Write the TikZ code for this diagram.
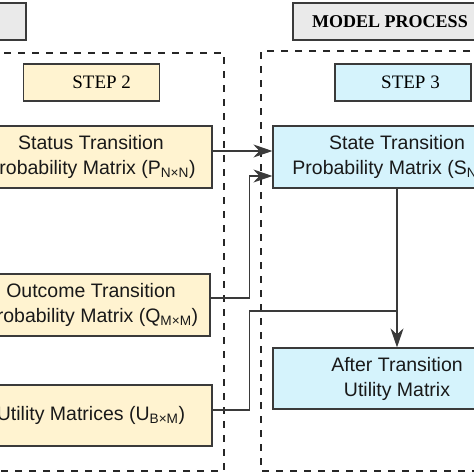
\documentclass[tikz,border=0pt]{standalone}
\usepackage{fontspec}
\setmainfont{Liberation Sans}
\newfontfamily\stepfont{Liberation Serif}
\usetikzlibrary{arrows.meta}
\definecolor{boxline}{HTML}{3A3A3A}
\definecolor{inputfill}{HTML}{FFF3D0}
\definecolor{modelfill}{HTML}{D5F3FC}
\definecolor{headfill}{HTML}{EAEAEA}
\tikzset{
    matbox/.style={draw=boxline,line width=1.2pt,inner sep=0pt,align=center,
        minimum height=62pt,text=black!90},
    stepbox/.style={draw=boxline,line width=1.2pt,inner sep=0pt,
        minimum width=136pt,minimum height=37pt,
        font=\stepfont\fontsize{19}{23}\selectfont},
    headbox/.style={draw=boxline,line width=1.2pt,fill=headfill,inner sep=0pt,
        minimum height=37pt,font=\stepfont\bfseries\fontsize{18}{22}\selectfont},
    dashbox/.style={line width=1.5pt,dash pattern=on 7pt off 7pt,black!85},
    conn/.style={line width=1.2pt,boxline},
}
\begin{document}
\begin{tikzpicture}[x=1pt,y=-1pt,>={Stealth[length=19pt,width=13pt,inset=6pt]},
    every node/.style={font=\fontsize{19.5}{25}\selectfont}]
    \useasboundingbox (0,0) rectangle (474,474);
    \clip (0,0) rectangle (474,474);
    % headers
    \node[headbox,minimum width=172pt] (prevhead) at (-60,21.5) {};
    \node[headbox,minimum width=194pt] (modelhead) at (390,21.5) {MODEL PROCESS};
    % dashed frames
    \draw[dashbox] (-10,53) -- (224,53) -- (224,471) -- (-10,471);
    \draw[dashbox] (484,51) -- (261,51) -- (261,471) -- (484,471);
    % step labels
    \node[stepbox,fill=inputfill] (step2) at (91.7,82.5) {\hspace*{20pt}STEP 2};
    \node[stepbox,fill=modelfill] (step3) at (403,82.5) {\hspace*{15pt}STEP 3};
    % input matrices
    \node[matbox,fill=inputfill,minimum width=242pt] (status) at (91,157)
        {Status Transition\\Probability Matrix (P\textsubscript{N×N})};
    \node[matbox,fill=inputfill,minimum width=238pt] (outcome) at (91,305)
        {Outcome Transition\\Probability Matrix (Q\textsubscript{M×M})};
    \node[matbox,fill=inputfill,minimum width=242pt,minimum height=61pt]
        (utility) at (91,415.5) {Utility Matrices (U\textsubscript{B×M})};
    % model matrices
    \node[matbox,fill=modelfill,minimum width=248pt] (state) at (397,157)
        {State Transition\\Probability Matrix (S\textsubscript{N×N})};
    \node[matbox,fill=modelfill,minimum width=248pt,minimum height=61pt]
        (after) at (397,378.5) {After Transition\\Utility Matrix};
    \coordinate (join) at (397,311);
    % connectors
    \draw[conn,->] ([yshift=6pt]status.east) -- ([yshift=6pt]state.west);
    \draw[conn,->] ([yshift=7pt]outcome.east) -- ++(39,0)
        |- ([yshift=-19pt]state.west);
    \draw[conn] ([yshift=5.5pt]utility.east) -- ++(37,0) |- (join);
    \draw[conn,->] (state) -- (after);
\end{tikzpicture}
\end{document}
